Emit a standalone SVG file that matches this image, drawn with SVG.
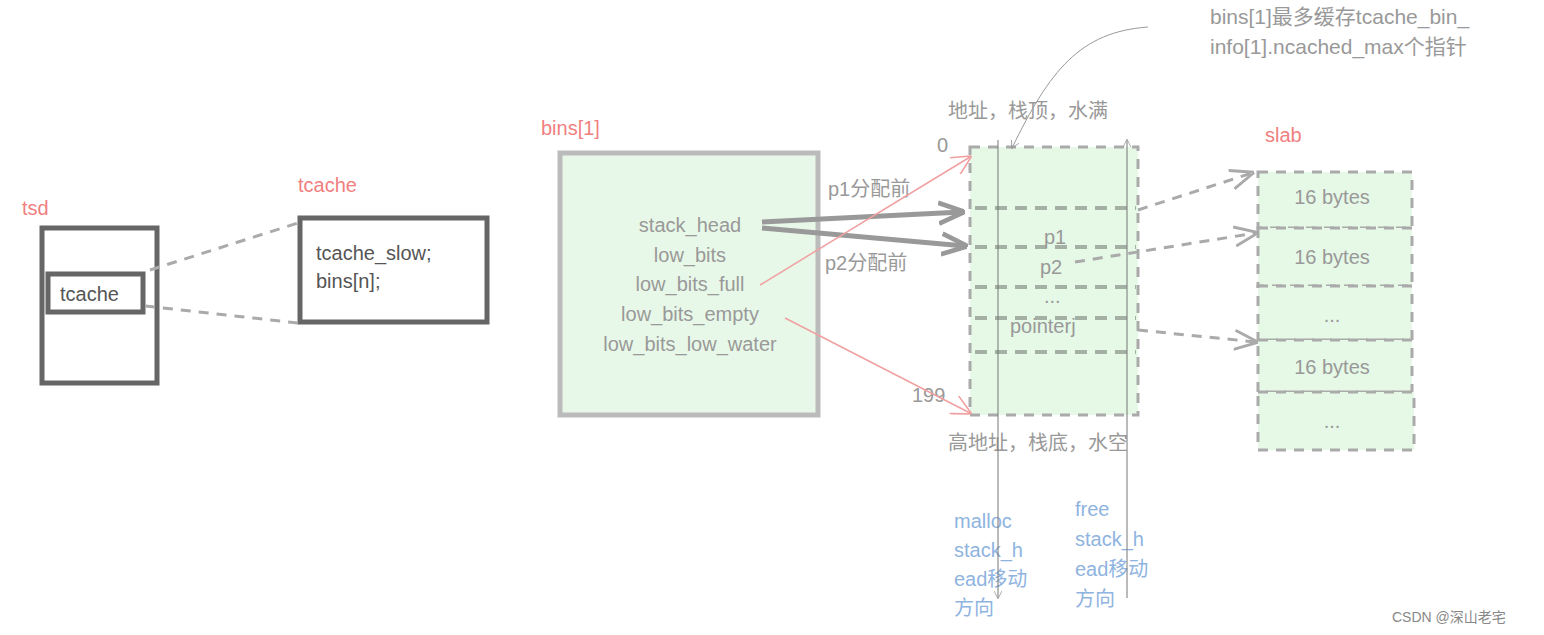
<svg xmlns="http://www.w3.org/2000/svg" width="1544" height="635" viewBox="0 0 1544 635">
<style>
text{font-family:"Liberation Sans","Noto Sans CJK SC",sans-serif;font-size:20px;fill:#999}
.red{fill:#f08080}
.blue{fill:#8fb4e0}
.dark{fill:#555}
.box{fill:none;stroke:#666;stroke-width:5}
.dash{stroke:#aaa;stroke-width:3;stroke-dasharray:10 8;fill:none}
.sep{stroke:#a5b0a5;stroke-width:4;stroke-dasharray:12 8;fill:none}
.cell{fill:#e6f8e6;stroke:#aaa;stroke-width:3;stroke-dasharray:10 8}
</style>
<defs>
<marker id="ag" viewBox="0 0 10 10" refX="9" refY="5" markerWidth="8" markerHeight="8" orient="auto" markerUnits="userSpaceOnUse"><path d="M0,0L10,5L0,10" fill="none" stroke="#999" stroke-width="1"/></marker>
<marker id="ar" viewBox="0 0 10 10" refX="9" refY="5" markerWidth="20" markerHeight="20" orient="auto" markerUnits="userSpaceOnUse"><path d="M0,0L10,5L0,10" fill="none" stroke="#f0a0a0" stroke-width="0.8"/></marker>
<marker id="at" viewBox="0 0 10 10" refX="9" refY="5" markerWidth="26" markerHeight="26" orient="auto" markerUnits="userSpaceOnUse"><path d="M0,1L10,5L0,9" fill="none" stroke="#999" stroke-width="1.8"/></marker>
<marker id="ad" viewBox="0 0 10 10" refX="9" refY="5" markerWidth="8" markerHeight="8" orient="auto"><path d="M0,1L10,5L0,9" fill="none" stroke="#aaa" stroke-width="1.2"/></marker>
</defs>
<g id="tsd">
<text x="22" y="215" class="red">tsd</text>
<rect x="42" y="228" width="115" height="155" class="box"/>
<rect x="48" y="274" width="95" height="38" class="box"/>
<text x="60" y="301" class="dark">tcache</text>
</g>
<g id="tcache">
<text x="298" y="192" class="red">tcache</text>
<rect x="300" y="218" width="187" height="104" class="box"/>
<text x="316" y="260" class="dark">tcache_slow;</text>
<text x="316" y="288" class="dark">bins[n];</text>
</g>
<g id="bins1">
<text x="541" y="135" class="red">bins[1]</text>
<rect x="560" y="153" width="258" height="262" fill="#e8f8e8" stroke="#bbb" stroke-width="5"/>
<g text-anchor="middle" style="font-size:21px">
<text x="690" y="232">stack_head</text>
<text x="690" y="262">low_bits</text>
<text x="690" y="291">low_bits_full</text>
<text x="690" y="321">low_bits_empty</text>
<text x="690" y="351">low_bits_low_water</text>
</g>
</g>
<g id="stack">
<rect x="970" y="147" width="168" height="268" class="cell"/>
<path d="M975 208H1136M975 247H1136M975 287H1136M975 318H1136M975 352H1136" class="sep"/>
<text x="1044" y="244">p1</text>
<text x="1040" y="274">p2</text>
<text x="1044" y="303">...</text>
<text x="1010" y="333">pointerj</text>
<text x="937" y="152">0</text>
<text x="912" y="402">199</text>
<text x="948" y="118">地址，栈顶，水满</text>
<text x="948" y="450">高地址，栈底，水空</text>
</g>
<g id="slab">
<text x="1265" y="142" class="red">slab</text>
<rect x="1258" y="172" width="154" height="56" class="cell"/>
<rect x="1258" y="228" width="154" height="58" class="cell"/>
<rect x="1258" y="286" width="154" height="54" class="cell"/>
<rect x="1258" y="340" width="154" height="52" class="cell"/>
<rect x="1258" y="392" width="156" height="58" class="cell"/>
<g text-anchor="middle">
<text x="1332" y="204">16 bytes</text>
<text x="1332" y="264">16 bytes</text>
<text x="1332" y="322">...</text>
<text x="1332" y="374">16 bytes</text>
<text x="1332" y="428">...</text>
</g>
</g>
<g id="note">
<text x="1210" y="24" style="font-size:21px">bins[1]最多缓存tcache_bin_</text>
<text x="1210" y="54" style="font-size:21px">info[1].ncached_max个指针</text>
</g>
<g id="labels">
<text x="828" y="196">p1分配前</text>
<text x="825" y="270">p2分配前</text>
<text x="954" y="528" class="blue">malloc</text>
<text x="954" y="557" class="blue">stack_h</text>
<text x="954" y="586" class="blue">ead移动</text>
<text x="954" y="615" class="blue">方向</text>
<text x="1075" y="516" class="blue">free</text>
<text x="1075" y="546" class="blue">stack_h</text>
<text x="1075" y="576" class="blue">ead移动</text>
<text x="1075" y="606" class="blue">方向</text>
<text x="1392" y="622" style="font-size:14px;fill:#888">CSDN @深山老宅</text>
</g>
<g id="connectors">
<path d="M150 270L298 223M145 306L298 323" class="dash"/>
<path d="M762 222L962 212" stroke="#999" stroke-width="5" fill="none" marker-end="url(#at)"/>
<path d="M762 228L965 246" stroke="#999" stroke-width="5" fill="none" marker-end="url(#at)"/>
<path d="M760 285L970 157" stroke="#f0a0a0" stroke-width="1.5" fill="none" marker-end="url(#ar)"/>
<path d="M785 318L970 413" stroke="#f0a0a0" stroke-width="1.5" fill="none" marker-end="url(#ar)"/>
<path d="M998 140V598" stroke="#777" stroke-width="1" marker-end="url(#ag)"/>
<path d="M1127 598V140" stroke="#777" stroke-width="1" marker-end="url(#ag)"/>
<path d="M1148 27C1080 32 1050 70 1012 148" stroke="#999" stroke-width="1" fill="none" marker-end="url(#ag)"/>
<path d="M1138 210L1252 173" class="dash" marker-end="url(#ad)"/>
<path d="M1075 262L1256 233" class="dash" marker-end="url(#ad)"/>
<path d="M1138 330L1256 342" class="dash" marker-end="url(#ad)"/>
</g>
</svg>
